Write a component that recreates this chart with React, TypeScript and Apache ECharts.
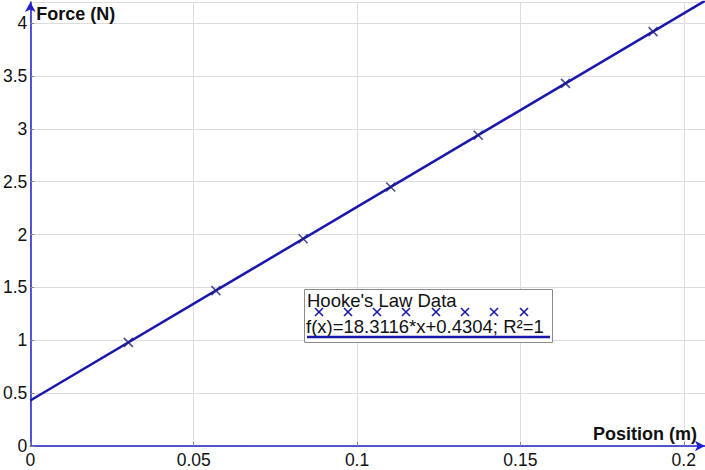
import { useRef, useEffect } from "react";
import * as echarts from "echarts";

// measured points (position in m, force in N)
const positions = [0.03, 0.0568, 0.0835, 0.1103, 0.1371, 0.1638, 0.1906];
const forces = [0.98, 1.47, 1.96, 2.45, 2.94, 3.43, 3.92];

// fitted line end points, f(x)=18.3116*x+0.4304
const fitX = [0, 0.2065];
const fitY = [0.4304, 4.2117];

const xTicks = [0, 0.05, 0.1, 0.15, 0.2];
const yTicks = [0, 0.5, 1, 1.5, 2, 2.5, 3, 3.5, 4];

const seriesName = "Hooke's Law Data";
const fitLabel = "f(x)=18.3116*x+0.4304; R²=1";

const BLUE = "#1818ac";
const AXIS_BLUE = "#1f1fd0";
const CROSS = "path://M0,0L10,10M10,0L0,10";

export default function App() {
  const chartRef = useRef<HTMLDivElement>(null);

  useEffect(() => {
    if (!chartRef.current) return;
    const chart = echarts.init(chartRef.current, null, { renderer: "svg" });

    const font = "'Liberation Sans', Arial, sans-serif";
    // the little crosses in the legend box
    const legendCrosses = [319, 348, 377, 406, 436, 465, 494, 524].flatMap((cx) => [
      {
        type: "line",
        shape: { x1: cx - 4, y1: 308, x2: cx + 4, y2: 316 },
        style: { stroke: BLUE, lineWidth: 1.6 },
        z: 11,
      },
      {
        type: "line",
        shape: { x1: cx + 4, y1: 308, x2: cx - 4, y2: 316 },
        style: { stroke: BLUE, lineWidth: 1.6 },
        z: 11,
      },
    ]);

    const tickFormatter = (ticks: number[]) => (v: number) => {
      const t = ticks.find((k) => Math.abs(k - v) < 1e-9);
      return t === undefined ? "" : String(t);
    };

    chart.setOption({
      animation: false,
      textStyle: { fontFamily: font },
      grid: { left: 30, right: 0, top: 2, bottom: 24, containLabel: false },
      xAxis: {
        type: "value",
        min: 0,
        max: fitX[1],
        interval: 0.05,
        name: "Position (m)",
        nameLocation: "end",
        nameGap: -8,
        nameTextStyle: {
          fontSize: 18,
          fontWeight: "bold",
          color: "#111",
          align: "right",
          verticalAlign: "bottom",
          padding: [0, 0, 3, 0],
        },
        axisLine: {
          show: true,
          symbol: ["none", "arrow"],
          symbolSize: [8, 10],
          lineStyle: { color: AXIS_BLUE, width: 1.5 },
        },
        axisTick: { show: true, length: 4, inside: true, lineStyle: { color: "#888" } },
        axisLabel: {
          color: "#111",
          fontSize: 17.5,
          margin: 5,
          showMaxLabel: false,
          formatter: tickFormatter(xTicks),
        },
        splitLine: { show: true, lineStyle: { color: "#dcdcdc", width: 1 } },
      },
      yAxis: {
        type: "value",
        min: 0,
        max: 4.2,
        interval: 0.5,
        name: "Force (N)",
        nameLocation: "end",
        nameGap: -12,
        nameTextStyle: {
          fontSize: 18,
          fontWeight: "bold",
          color: "#111",
          align: "left",
          verticalAlign: "middle",
          padding: [0, 0, 0, 6],
        },
        axisLine: {
          show: true,
          symbol: ["none", "arrow"],
          symbolSize: [8, 10],
          lineStyle: { color: AXIS_BLUE, width: 1.5 },
        },
        axisTick: { show: true, length: 4, inside: true, lineStyle: { color: "#888" } },
        axisLabel: {
          color: "#111",
          fontSize: 17.5,
          margin: 3,
          showMaxLabel: false,
          formatter: tickFormatter(yTicks),
        },
        splitLine: { show: true, lineStyle: { color: "#dcdcdc", width: 1 } },
      },
      series: [
        {
          name: "fit",
          type: "line",
          data: fitX.map((x, i) => [x, fitY[i]]),
          showSymbol: false,
          lineStyle: { color: BLUE, width: 2.5 },
          z: 2,
        },
        {
          name: seriesName,
          type: "scatter",
          data: positions.map((x, i) => [x, forces[i]]),
          symbol: CROSS,
          symbolSize: 9,
          itemStyle: { color: "none", borderColor: "#202080", borderWidth: 1.6 },
          z: 3,
        },
      ],
      graphic: [
        {
          type: "rect",
          shape: { x: 304.5, y: 289.5, width: 248, height: 53 },
          style: { fill: "#fff", stroke: "#8a8a8a", lineWidth: 1 },
          z: 10,
        },
        {
          type: "text",
          x: 307,
          y: 300,
          style: { text: seriesName, font: `18.5px ${font}`, fill: "#111", verticalAlign: "middle" },
          z: 11,
        },
        ...legendCrosses,
        {
          type: "text",
          x: 306,
          y: 326,
          style: { text: fitLabel, font: `18.5px ${font}`, fill: "#111", verticalAlign: "middle" },
          z: 11,
        },
        {
          type: "line",
          shape: { x1: 307, y1: 337, x2: 550, y2: 337 },
          style: { stroke: BLUE, lineWidth: 2.5 },
          z: 11,
        },
      ],
    });

    return () => chart.dispose();
  }, []);

  return (
    <div
      ref={chartRef}
      style={{ position: "fixed", left: 0, top: 0, width: 705, height: 470, background: "#fff" }}
    />
  );
}
